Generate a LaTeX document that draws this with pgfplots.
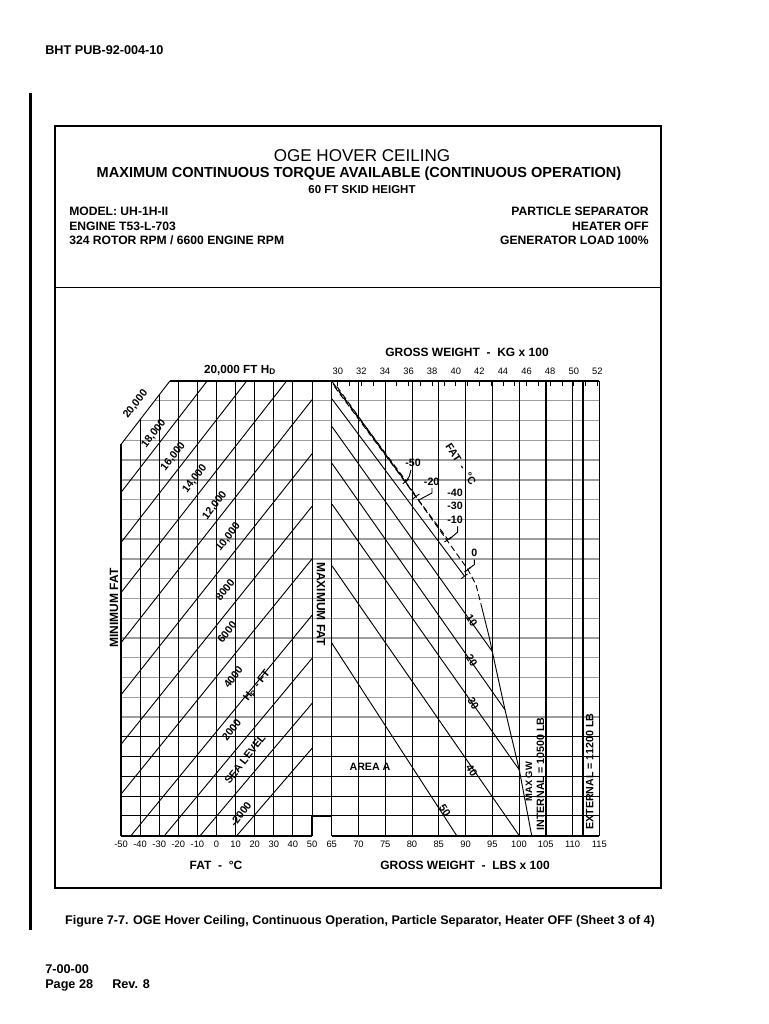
\documentclass[border=0pt]{standalone}
\usepackage{pgfplots}
\pgfplotsset{compat=1.18}
\usepackage{fontspec}
\setmainfont{Liberation Sans}
\newcommand\fs[1]{\fontsize{#1}{#1}\selectfont}
\definecolor{grd}{gray}{0.62}
\pgfplotsset{
  panel/.style={scale only axis, anchor=south west, height=341.03pt, ymin=-3, ymax=20,
    axis line style={draw=none}, tick style={draw=none}, ytick=\empty, clip=false,
    xticklabel style={font=\fs{7pt}, inner sep=0pt, anchor=north, yshift=-4.0pt}},
  dl/.style={black, line width=0.7pt, no marks},
  ds/.style={black, line width=0.7pt, no marks, dash pattern=on 4.5pt off 2.5pt},
}
\tikzset{px/.style={x=0.75pt,y=-0.75pt}}
\begin{document}
\begin{tikzpicture}[every node/.style={inner sep=0pt}]
\begin{scope}[px]
\fill[white] (0,0) rectangle (768,1024);
% header / page furniture
\node[anchor=west,font=\bfseries\fs{9.5pt}] at (45,50.5) {BHT PUB-92-004-10};
\fill (28.5,93) rectangle (32,930);
\draw[line width=1.3pt] (55,126) rectangle (661,888);
\draw[line width=1.3pt] (55,287.5) -- (661,287.5);
\node[font=\fs{12.8pt}] at (362,155.5) {OGE HOVER CEILING};
\node[font=\bfseries\fs{10.9pt}] at (359,174) {MAXIMUM CONTINUOUS TORQUE AVAILABLE (CONTINUOUS OPERATION)};
\node[font=\bfseries\fs{8.6pt}] at (362,190) {60 FT SKID HEIGHT};
\node[anchor=west,font=\bfseries\fs{9.1pt}] at (69,211.5) {MODEL: UH-1H-II};
\node[anchor=west,font=\bfseries\fs{9.1pt}] at (69,226) {ENGINE T53-L-703};
\node[anchor=west,font=\bfseries\fs{9.1pt}] at (69,240.5) {324 ROTOR RPM / 6600 ENGINE RPM};
\node[anchor=east,font=\bfseries\fs{9.1pt}] at (649,211.5) {PARTICLE SEPARATOR};
\node[anchor=east,font=\bfseries\fs{9.1pt}] at (649,226) {HEATER OFF};
\node[anchor=east,font=\bfseries\fs{9.1pt}] at (649,240.5) {GENERATOR LOAD 100\%};
\node[font=\bfseries\fs{9.4pt}] at (360,921) {Figure 7-7. OGE Hover Ceiling, Continuous Operation, Particle Separator, Heater OFF (Sheet 3 of 4)};
\node[anchor=base west,font=\bfseries\fs{9.5pt}] at (45,973.5) {7-00-00};
\node[anchor=base west,font=\bfseries\fs{9.5pt}] at (45,988.5) {Page 28};
\node[anchor=base west,font=\bfseries\fs{9.5pt}] at (112,988.5) {Rev. 8};
\end{scope}

% ---------------- left panel: FAT vs density altitude (x1000 ft) ----------------
\begin{axis}[panel, at={(90.75pt,-626.775pt)}, width=158.03pt, xmin=-50, xmax=60.3,
  xtick={-50,-40,...,50}, xticklabels={-50,-40,-30,-20,-10,0,10,20,30,40,50}]
\pgfplotsinvokeforeach{3,4,...,19}{\draw[grd,line width=1pt] (axis cs:-50,#1) -- (axis cs:60.3,#1);}
\pgfplotsinvokeforeach{-40,-30,...,50}{\draw[black,line width=0.7pt] (axis cs:#1,-3) -- (axis cs:#1,20);}
\fill[white] (axis cs:-50,16.792) -- (axis cs:-53,16.792) -- (axis cs:-53,20.3) -- (axis cs:-24.4,20.3) -- (axis cs:-24.4,20) -- cycle;
\pgfplotsinvokeforeach{-2,-1,...,2}{\draw[black,line width=0.75pt] (axis cs:-50,#1) -- (axis cs:60.3,#1);}
\draw[black,line width=0.8pt] (axis cs:-50,-3) -- (axis cs:-50,16.792);
\draw[black,line width=0.8pt] (axis cs:-24.4,20) -- (axis cs:60.3,20);
\draw[line width=1.5pt] (axis cs:-50,-3) -- (axis cs:50,-3);
\draw[line width=1.5pt] (axis cs:50,-3) -- (axis cs:50,-2) -- (axis cs:60.3,-2);
% pressure altitude lines
\addplot[dl] coordinates {(-50,16.792) (-24.4,20)};
\addplot[dl] coordinates {(-50,14.361) (-4.9,20)};
\addplot[dl] coordinates {(-50,11.828) (15.8,20)};
\addplot[dl] coordinates {(-50,9.295) (36.7,20)};
\addplot[dl] coordinates {(-50,6.762) (50,19.05)};
\addplot[dl] coordinates {(-50,4.128) (50,16.32)};
\addplot[dl] coordinates {(-50,1.62) (50,13.66)};
\addplot[dl] coordinates {(-50,-0.90) (50,11.00)};
\addplot[dl] coordinates {(-44.8,-3) (50,8.15)};
\addplot[dl] coordinates {(-27.3,-3) (50,5.97)};
\addplot[dl] coordinates {(-8.6,-3) (50,3.69)};
\addplot[dl] coordinates {(10.6,-3) (50,1.42)};
\end{axis}

% ---------------- right panel: gross weight ----------------
\begin{axis}[panel, at={(248.775pt,-626.775pt)}, width=200.7pt, xmin=65, xmax=115,
  xtick={65,70,...,115}, xticklabels={65,70,75,80,85,90,95,100,105,110,115}]
\pgfplotsinvokeforeach{3,4,...,19}{\draw[grd,line width=1pt] (axis cs:65,#1) -- (axis cs:115,#1);}
\pgfplotsinvokeforeach{-2,-1,...,2}{\draw[black,line width=0.75pt] (axis cs:65,#1) -- (axis cs:115,#1);}
\pgfplotsinvokeforeach{65,70,...,115}{\draw[black,line width=0.7pt] (axis cs:#1,-3) -- (axis cs:#1,20);}
\draw[line width=1.5pt] (axis cs:105,-3) -- (axis cs:105,20);
\draw[line width=1.5pt] (axis cs:112,-3) -- (axis cs:112,20);
\draw[line width=1.5pt] (axis cs:65,-3) -- (axis cs:115,-3);
% FAT lines (solid)
\addplot[dl] coordinates {(65.06,19.09) (89.78,10.14)};
\addplot[dl] coordinates {(65.06,17.69) (95.0,6.32)};
\addplot[dl] coordinates {(65.06,15.83) (97.38,3.37)};
\addplot[dl] coordinates {(65.06,13.77) (100.05,0.33)};
\addplot[dl] coordinates {(65.06,10.65) (100.05,-3)};
\addplot[dl] coordinates {(65,6.75) (88.36,-3)};
% max GW boundary
\addplot[dl] coordinates {(102.37,-3) (100.05,0.33) (97.38,3.37) (95.0,6.32) (94.45,7.02) (92.90,8.70)};
% dashed cold FAT lines
\addplot[ds] coordinates {(65.15,19.94) (78.88,14.95)};
\addplot[ds] coordinates {(65.3,19.85) (80.75,14.19)};
\addplot[ds] coordinates {(65.5,19.72) (86.67,12.00)};
\addplot[ds] coordinates {(65.99,19.72) (90.41,10.48) (91.96,9.70) (92.90,8.70)};
\end{axis}

% ---------------- kg scale ----------------
\begin{axis}[scale only axis, anchor=south west, at={(248.775pt,-626.775pt)}, width=200.7pt, height=341.03pt,
  xmin=29.4838, xmax=52.1632, ymin=0, ymax=1, axis x line*=top, axis y line=none,
  xtick={30,32,...,52}, minor xtick={31,33,...,51}, tick align=inside,
  major tick length=4pt, minor tick length=3.5pt, tick style={black,line width=0.7pt},
  axis line style={line width=0.9pt},
  xticklabels={30,32,34,36,38,40,42,44,46,48,50,52},
  xticklabel style={font=\fs{7pt}, inner sep=0pt, anchor=south, yshift=4.5pt}]
\end{axis}

\begin{scope}[px]
% leaders and cross marks on the cold FAT lines
\begin{scope}[line width=0.7pt]
\draw (411,469.7) -- (409.3,476.3) -- (406,481.3);
\draw (432,488) -- (432,493) -- (419.3,499.7);
\draw (457.7,526.3) -- (457.7,532) -- (448.7,539.7);
\draw (474.3,559.7) -- (474.3,564.7) -- (468.7,568.7);
\draw (402.8,483.7) -- (409.2,478.9);
\draw (413,498.7) -- (419.4,493.9);
\draw (444.5,542.1) -- (450.9,537.3);
\draw (464.5,572.1) -- (470.9,567.3);
\draw (461.1,578.7) -- (467.5,573.9);
\end{scope}

% ---------------- chart labels ----------------
\node[font=\bfseries\fs{8.8pt}] at (240,370) {20,000 FT H\textsubscript{D}};
\node[font=\bfseries\fs{9pt}] at (467,352) {GROSS WEIGHT \ - \ KG x 100};
\node[font=\bfseries\fs{9pt}] at (216,865) {FAT \ - \ \textdegree C};
\node[font=\bfseries\fs{9pt}] at (465,865) {GROSS WEIGHT \ - \ LBS x 100};
\node[font=\bfseries\fs{9pt},rotate=90] at (114,608) {MINIMUM FAT};
\node[font=\bfseries\fs{9pt},rotate=-90] at (321,604) {MAXIMUM FAT};
\begin{scope}[every node/.style={font=\bfseries\fs{8pt},rotate=52,inner sep=0pt}]
\node at (135.6,404.3) {20,000};
\node at (153.8,434) {18,000};
\node at (173.2,456.6) {16,000};
\node at (194.8,479) {14,000};
\node at (214.8,505.6) {12,000};
\node at (228.2,537.3) {10,000};
\node at (225,590) {8000};
\node at (227,632.3) {6000};
\node at (233.2,677.3) {4000};
\node at (257,686) {H\textsubscript{P} - FT};
\node at (231.5,730) {2000};
\node at (245,759) {SEA LEVEL};
\node at (240.8,814) {-2000};
\end{scope}
\begin{scope}[every node/.style={font=\bfseries\fs{8pt},rotate=-57,inner sep=0pt}]
\node at (461,464) {FAT \ - \ \textdegree C};
\node at (471.7,620) {10};
\node at (471.7,660) {20};
\node at (473.3,703.3) {30};
\node at (471.7,770) {40};
\node at (445,810) {50};
\end{scope}
\begin{scope}[every node/.style={font=\bfseries\fs{8pt},inner sep=0pt}]
\node at (413,463.3) {-50};
\node at (431.7,481.7) {-20};
\node at (455,492.7) {-40};
\node at (455,506) {-30};
\node at (455,520) {-10};
\node at (474.3,553.3) {0};
\node at (370,766.7) {AREA A};
\end{scope}
\node[font=\bfseries\fs{7pt},rotate=90] at (528.8,781.7) {MAX GW};
\begin{scope}[every node/.style={font=\bfseries\fs{8pt},rotate=90,inner sep=0pt}]
\node at (540.5,774) {INTERNAL = 10500 LB};
\node at (589.8,771.7) {EXTERNAL = 11200 LB};
\end{scope}
\end{scope}
\end{tikzpicture}
\end{document}
